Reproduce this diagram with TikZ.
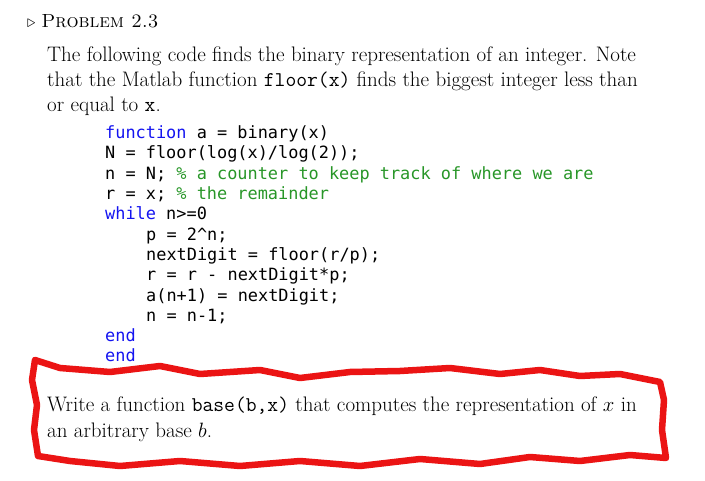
\documentclass[tikz,border=0pt]{standalone}
\usepackage{fontspec}
\newfontfamily\codefont{DejaVu Sans Mono}
\definecolor{kw}{RGB}{20,20,240}
\definecolor{cm}{RGB}{40,150,40}
\definecolor{rd}{RGB}{235,20,20}
\tikzset{txt/.style={anchor=base west,inner sep=0pt,font=\fontsize{21}{24}\selectfont},
code/.style={anchor=base west,inner sep=0pt,font=\fontsize{16.9}{18}\codefont}}
\begin{document}
\begin{tikzpicture}[x=1pt,y=-1pt]
\useasboundingbox (0,0) rectangle (705,481);
\node[txt,font=\fontsize{19}{22}\selectfont] (t) at (27,28) {$\triangleright$ \textsc{Problem 2.3}};
\node[txt] (l1) at (47,62) {The following code finds the binary representation of an integer. Note};
\node[txt] (l2) at (47,87) {that the Matlab function \texttt{floor(x)} finds the biggest integer less than};
\node[txt] (l3) at (47,112) {or equal to \texttt{x}.};
\node[code] (c1) at (105,139) {\textcolor{kw}{function} a = binary(x)};
\node[code] (c2) at (105,159) {N = floor(log(x)/log(2));};
\node[code] (c3) at (105,180) {n = N; \textcolor{cm}{\% a counter to keep track of where we are}};
\node[code] (c4) at (105,200) {r = x; \textcolor{cm}{\% the remainder}};
\node[code] (c5) at (105,220) {\textcolor{kw}{while} n>=0};
\node[code] (c6) at (146,241) {p = 2\^{}n;};
\node[code] (c7) at (146,261) {nextDigit = floor(r/p);};
\node[code] (c8) at (146,281) {r = r - nextDigit*p;};
\node[code] (c9) at (146,302) {a(n+1) = nextDigit;};
\node[code] (c10) at (146,322) {n = n-1;};
\node[code] (c11) at (105,342) {\textcolor{kw}{end}};
\node[code] (c12) at (105,362) {\textcolor{kw}{end}};
\node[txt] (w1) at (47,411) {Write a function \texttt{base(b,x)} that computes the representation of $x$ in};
\node[txt] (w2) at (47,437) {an arbitrary base $b$.};
\draw[rd,line width=6.5pt,line cap=round,line join=round]
 (35,360) -- (60,368) -- (110,372) -- (160,366) -- (200,374) -- (260,370) -- (300,378) -- (350,372)
 -- (400,371) -- (450,368) -- (500,374) -- (540,370) -- (580,376) -- (620,374) -- (660,382)
 -- (664,400) -- (662,430) -- (666,458) -- (630,455) -- (580,461) -- (530,457) -- (480,464)
 -- (420,459) -- (360,466) -- (300,461) -- (240,466) -- (180,461) -- (120,466) -- (70,461)
 -- (38,456) -- (34,430) -- (37,405) -- (32,380) -- (35,360);
\end{tikzpicture}
\end{document}
